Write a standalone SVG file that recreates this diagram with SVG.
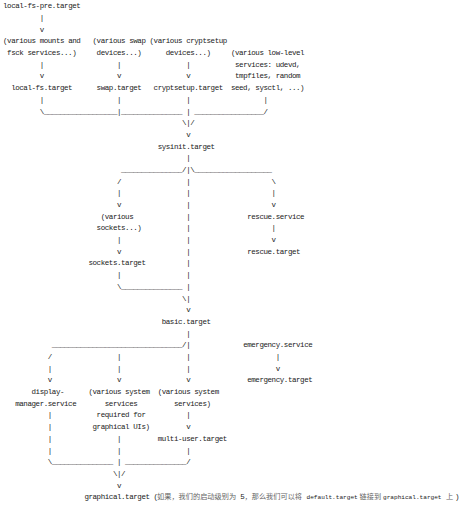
<svg xmlns="http://www.w3.org/2000/svg" width="474" height="506" viewBox="0 0 474 506">
<style>
  text { font-family: "Liberation Mono", "DejaVu Sans Mono", monospace; font-size: 7.5px; letter-spacing: -0.43px; fill: #1a1a1a; white-space: pre; }
  .cjk { font-family: "Noto Sans CJK SC", "Noto Sans", sans-serif; font-size: 7.2px; letter-spacing: 0; fill: #666; }
  .small { font-size: 6.1px; letter-spacing: 0; }
</style>
<rect width="474" height="506" fill="#ffffff"/>
<g id="connectors">
  <text x="39.63" y="19.99">|</text>
  <text x="39.63" y="31.68">v</text>
  <text x="39.63" y="66.75">|</text><text x="116.96" y="66.75">|</text><text x="186.15" y="66.75">|</text>
  <text x="39.63" y="78.44">v</text><text x="116.96" y="78.44">v</text><text x="186.15" y="78.44">v</text>
  <text x="39.63" y="101.82">|</text><text x="116.96" y="101.82">|</text><text x="186.15" y="101.82">|</text><text x="263.48" y="101.82">|</text>
  <text x="39.63" y="113.51">\__________________|_______________ | _________________/</text>
  <text x="182.08" y="125.20">\|/</text>
  <text x="186.15" y="136.89">v</text>
  <text x="186.15" y="160.27">|</text>
  <text x="121.03" y="171.96">_______________/|\___________________</text>
  <text x="116.96" y="183.65">/</text><text x="186.15" y="183.65">|</text><text x="271.62" y="183.65">\</text>
  <text x="116.96" y="195.34">|</text><text x="186.15" y="195.34">|</text><text x="271.62" y="195.34">|</text>
  <text x="116.96" y="207.03">v</text><text x="186.15" y="207.03">|</text><text x="271.62" y="207.03">v</text>
  <text x="186.15" y="218.72">|</text>
  <text x="186.15" y="230.41">|</text><text x="271.62" y="230.41">|</text>
  <text x="116.96" y="242.10">|</text><text x="186.15" y="242.10">|</text><text x="271.62" y="242.10">v</text>
  <text x="116.96" y="253.79">v</text><text x="186.15" y="253.79">|</text>
  <text x="186.15" y="265.48">|</text>
  <text x="116.96" y="277.17">|</text><text x="186.15" y="277.17">|</text>
  <text x="116.96" y="288.86">\_______________ |</text>
  <text x="182.08" y="300.55">\|</text>
  <text x="186.15" y="312.24">v</text>
  <text x="186.15" y="335.62">|</text>
  <text x="51.84" y="347.31">________________________________/|</text>
  <text x="47.77" y="359.00">/</text><text x="116.96" y="359.00">|</text><text x="186.15" y="359.00">|</text><text x="275.69" y="359.00">|</text>
  <text x="47.77" y="370.69">|</text><text x="116.96" y="370.69">|</text><text x="186.15" y="370.69">|</text><text x="275.69" y="370.69">v</text>
  <text x="47.77" y="382.38">v</text><text x="116.96" y="382.38">v</text><text x="186.15" y="382.38">v</text>
  <text x="47.77" y="417.45">|</text><text x="186.15" y="417.45">|</text>
  <text x="47.77" y="429.14">|</text><text x="186.15" y="429.14">v</text>
  <text x="47.77" y="440.83">|</text><text x="116.96" y="440.83">|</text>
  <text x="47.77" y="452.52">|</text><text x="116.96" y="452.52">|</text><text x="186.15" y="452.52">|</text>
  <text x="47.77" y="464.21">\_______________ | _______________/</text>
  <text x="112.89" y="475.90">\|/</text>
  <text x="116.96" y="487.59">v</text>
</g>
<g id="local-fs-pre"><text x="3" y="8.30">local-fs-pre.target</text></g>
<g id="mounts"><text x="3" y="43.37">(various mounts and</text><text x="7.07" y="55.06">fsck services...)</text></g>
<g id="swap-devices"><text x="92.54" y="43.37">(various swap</text><text x="96.61" y="55.06">devices...)</text></g>
<g id="cryptsetup-devices"><text x="149.52" y="43.37">(various cryptsetup</text><text x="165.80" y="55.06">devices...)</text></g>
<g id="low-level"><text x="230.92" y="55.06">(various low-level</text><text x="234.99" y="66.75">services: udevd,</text><text x="234.99" y="78.44">tmpfiles, random</text><text x="230.92" y="90.13">seed, sysctl, ...)</text></g>
<g id="local-fs"><text x="11.14" y="90.13">local-fs.target</text></g>
<g id="swap"><text x="96.61" y="90.13">swap.target</text></g>
<g id="cryptsetup"><text x="153.59" y="90.13">cryptsetup.target</text></g>
<g id="sysinit"><text x="157.66" y="148.58">sysinit.target</text></g>
<g id="sockets-various"><text x="100.68" y="218.72">(various</text><text x="96.61" y="230.41">sockets...)</text></g>
<g id="sockets"><text x="88.47" y="265.48">sockets.target</text></g>
<g id="rescue-service"><text x="247.20" y="218.72">rescue.service</text></g>
<g id="rescue-target"><text x="247.20" y="253.79">rescue.target</text></g>
<g id="basic"><text x="161.73" y="323.93">basic.target</text></g>
<g id="emergency-service"><text x="243.13" y="347.31">emergency.service</text></g>
<g id="emergency-target"><text x="247.20" y="382.38">emergency.target</text></g>
<g id="display-manager"><text x="31.49" y="394.07">display-</text><text x="15.21" y="405.76">manager.service</text></g>
<g id="graphical-services"><text x="88.47" y="394.07">(various system</text><text x="104.75" y="405.76">services</text><text x="96.61" y="417.45">required for</text><text x="92.54" y="429.14">graphical UIs)</text></g>
<g id="system-services"><text x="157.66" y="394.07">(various system</text><text x="173.94" y="405.76">services)</text></g>
<g id="multi-user"><text x="157.66" y="440.83">multi-user.target</text></g>
<g id="graphical">
  <text x="84.40" y="499.28">graphical.target</text>
  <text x="153.59" y="499.28">(</text>
  <text class="cjk" x="157" y="499.28">如果，我们的启动级别为</text>
  <text x="240.3" y="499.28">5</text>
  <text class="cjk" x="244.5" y="499.28">，那么我们可以将</text>
  <text class="small" x="306.5" y="499.28">default.target</text>
  <text class="cjk" x="359.5" y="499.28">链接到</text>
  <text class="small" x="383" y="499.28">graphical.target</text>
  <text class="cjk" x="446" y="499.28">上</text>
  <text x="455" y="499.28">)</text>
</g>
</svg>
